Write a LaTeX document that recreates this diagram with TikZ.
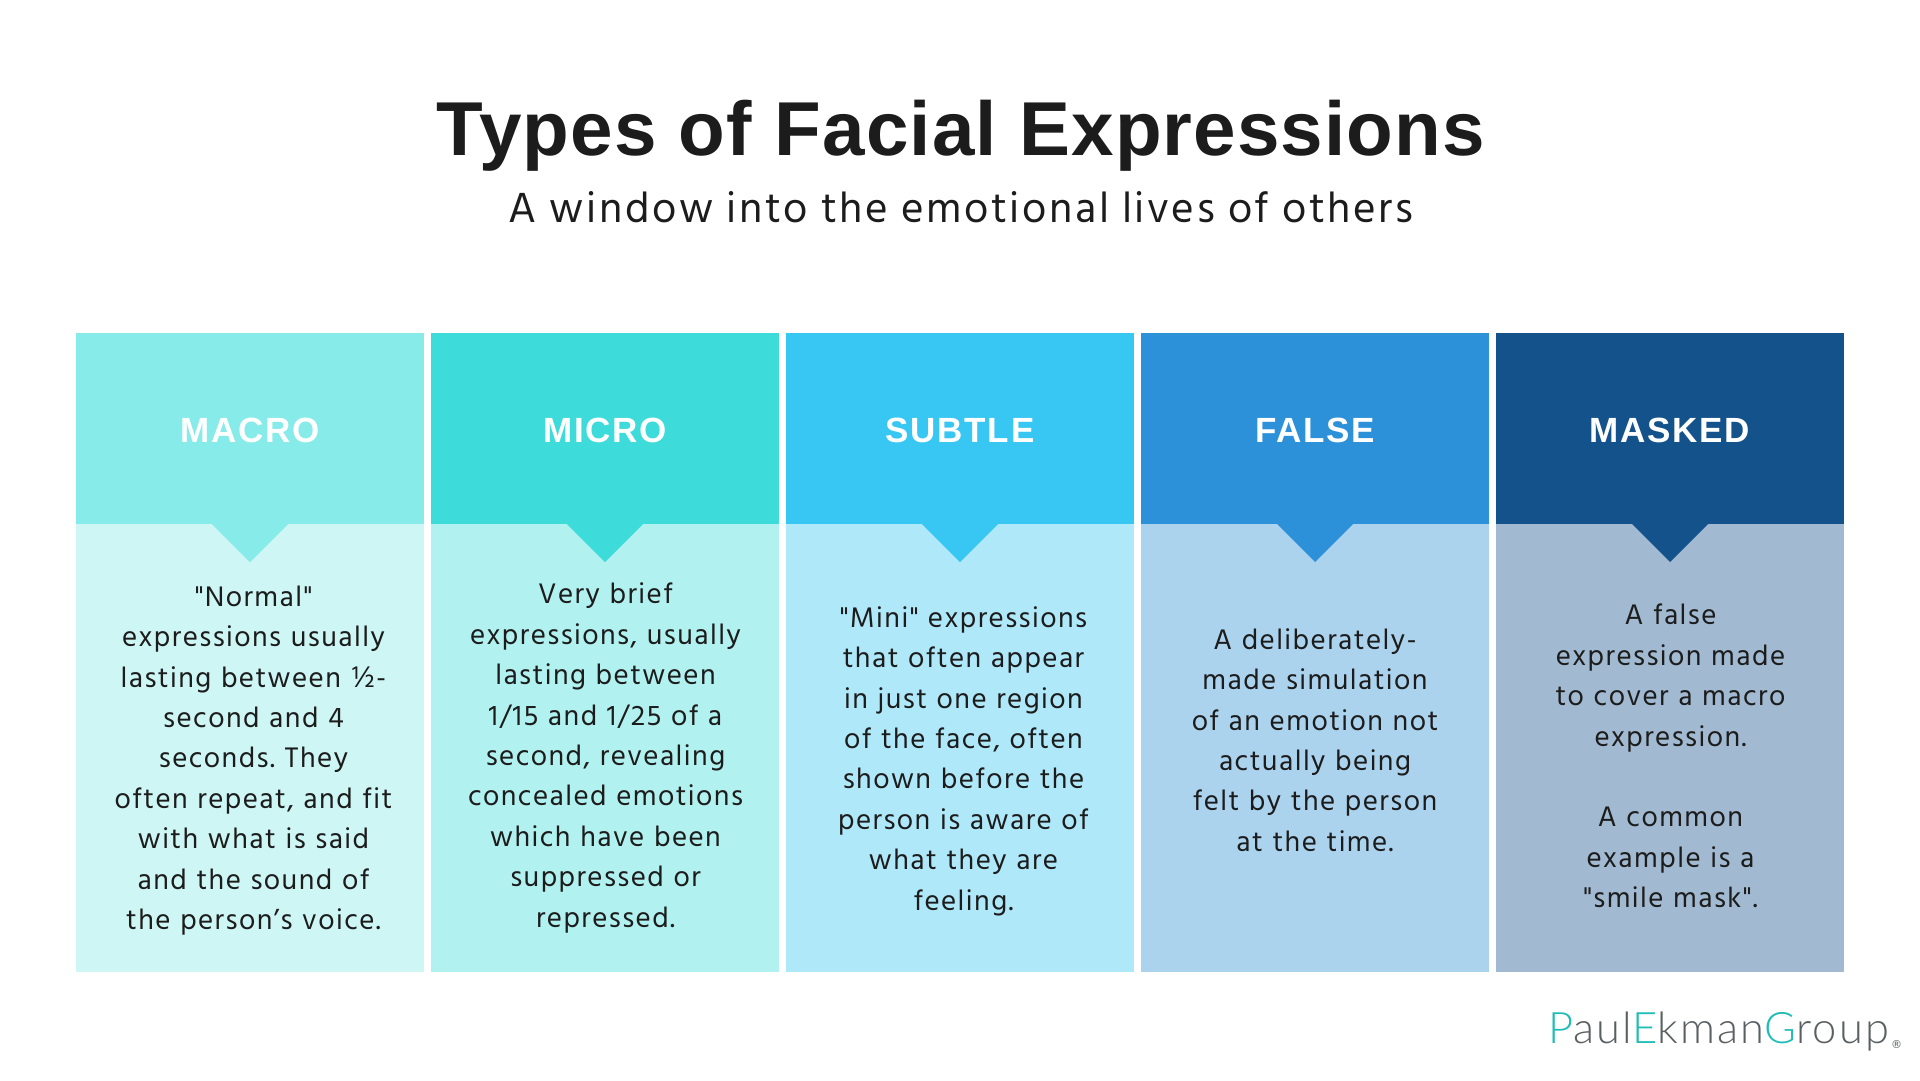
\documentclass[tikz,border=0pt]{standalone}
\usepackage{fontspec}
\frenchspacing
\newfontfamily\bodyf[LetterSpace=5]{Hind Madurai}
\newfontfamily\subf[LetterSpace=6]{Hind Madurai}
\newfontfamily\titlef[LetterSpace=1.5]{Liberation Sans}
\newfontfamily\headf[LetterSpace=5]{Liberation Sans}
\newfontfamily\logofont{Lato Light}
\definecolor{h1}{HTML}{86EBE9}\definecolor{b1}{HTML}{CDF6F5}
\definecolor{h2}{HTML}{3DDBD9}\definecolor{b2}{HTML}{B1F1EF}
\definecolor{h3}{HTML}{38C7F2}\definecolor{b3}{HTML}{AFE8F9}
\definecolor{h4}{HTML}{2D91D9}\definecolor{b4}{HTML}{ABD3EE}
\definecolor{h5}{HTML}{14528B}\definecolor{b5}{HTML}{A1BAD1}
\definecolor{ink}{HTML}{1C1C1C}
\definecolor{teal}{HTML}{1FBDB6}
\definecolor{lgray}{HTML}{5A5F62}
\tikzset{x=1pt,y=-1pt,
 headlab/.style={font=\headf\bfseries\fontsize{35}{40}\selectfont,text=white,anchor=center},
 bodylab/.style={font=\bodyf\frenchspacing\fontsize{29}{40.4}\selectfont,text=ink,align=center,anchor=center,text width=346pt}}
\newcommand{\col}[7]{% x, header, body, name, title, text-centre, text
 \fill[#3] (#1,524) rectangle ++(348,448);
 \fill[#2] (#1,333) rectangle ++(348,191);
 \fill[#2] (#1+136,524) -- (#1+212,524) -- (#1+174,562) -- cycle;
 \node[headlab] (#4h) at (#1+174,430) {#5};
 \node[bodylab] (#4b) at (#6) {#7};
}
\begin{document}
\begin{tikzpicture}
\useasboundingbox (0,0) rectangle (1920,1080);
\fill[white] (0,0) rectangle (1920,1080);
\node[font=\titlef\bfseries\fontsize{76.4}{80}\selectfont,text=ink] (title) at (961,136) {Types of Facial Expressions};
\node[font=\subf\fontsize{43.2}{48}\selectfont,text=ink] (sub) at (961,207) {A window into the emotional lives of others};
\col{76}{h1}{b1}{a}{MACRO}{253.5,760.5}{"Normal"\\expressions usually\\lasting between ½-\\second and 4\\seconds. They\\often repeat, and fit\\with what is said\\and the sound of\\the person’s voice.}
\col{431}{h2}{b2}{b}{MICRO}{605.5,758}{Very brief\\expressions, usually\\lasting between\\1/15 and 1/25 of a\\second, revealing\\concealed emotions\\which have been\\suppressed or\\repressed.}
\col{786}{h3}{b3}{c}{SUBTLE}{963.5,761}{"Mini" expressions\\that often appear\\in just one region\\of the face, often\\shown before the\\person is aware of\\what they are\\feeling.}
\col{1141}{h4}{b4}{d}{FALSE}{1315,740}{A deliberately-\\made simulation\\of an emotion not\\actually being\\felt by the person\\at the time.}
\col{1496}{h5}{b5}{e}{MASKED}{1670.5,756}{A false\\expression made\\to cover a macro\\expression.\\[40.4pt]A common\\example is a\\"smile mask".}
\node[font=\logofont\fontsize{43.4}{50}\selectfont\addfontfeature{LetterSpace=5},anchor=base east] (logo) at (1892.5,1043) {\textcolor{teal}{P}\textcolor{lgray}{aul}\textcolor{teal}{E}\textcolor{lgray}{kman}\textcolor{teal}{G}\textcolor{lgray}{roup}};
\node[font=\fontsize{11}{12}\selectfont,text=lgray,anchor=base west,inner sep=0pt] (reg) at (1891,1048) {\fontspec{DejaVu Sans}®};
\end{tikzpicture}
\end{document}
